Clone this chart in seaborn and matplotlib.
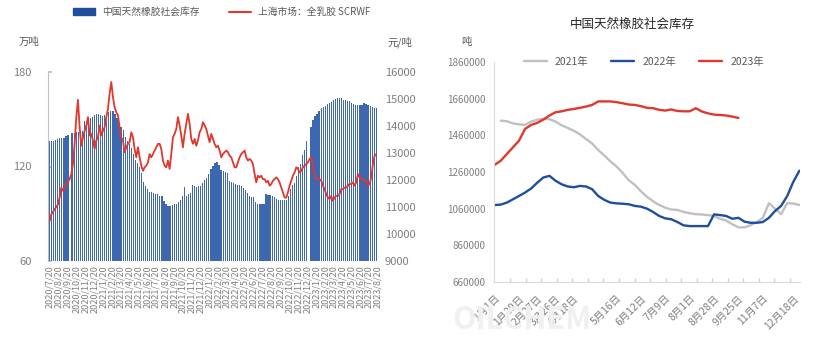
import numpy as np
import pandas as pd
import matplotlib
matplotlib.use("Agg")
import matplotlib.pyplot as plt
from matplotlib.lines import Line2D
from matplotlib.patches import Patch
from matplotlib.ticker import MultipleLocator, StrMethodFormatter
import seaborn as sns

# ---- left chart: weekly social inventory (万吨) and SCRWF price (元/吨) ----
START = "2020-07-20"
STOCK = [
    136.5, 136.5, 136.5, 136.8, 137.5, 138, 138, 138.3, 139.5, 139.8,
    np.nan,
    141.3, 141.5, 141.8, 142, 142.3, 142.3,
    149, 145, 150.5, 151, 151.5, 152.5, 153.5, 153.5, 152.5, 152, 152.5, 153,
    154.5, 155, 155, 153.5, 150.5, 147.5, 145, 143, 139, 136.5, 134.5,
    132, 128, 124, 122, 120, 116, 110, 107.5, 105.5, 104,
    103.5, 103, 102.8, 102.5, 101.5, 101, 98, 96.5, 95,
    95.2, 95.5, 96, 96.5, 97.5, 98.5, 101.5, 107, 101, 102.8, 103,
    108, 107.5, 107.3, 107.5, 107.8, 109.5, 111.7, 113, 115.5, 118.5,
    120.5, 122.5, 123, 121, 118, 117, 116.5, 116, 111, 110,
    109.5, 109.2, 108.5, 108, 107.8, 106.5, 105, 103, 101.5, 100.8,
    100.5, 97.5, 96.5, 96.5, 96.5, 96.5, 102.8, 102, 101.7, 101,
    100.6, 99.5, 99, 98.5, 98.5, 98.5, 99, 101, 106, 108.5,
    109.5, 114, 119.5, 121.5, 127, 130.5, 136.5, np.nan, 145, 149.5,
    152, 153.6, 155.5, 157, 157.8, 158.5, 159.5, 160.3, 161, 162,
    163, 163.7, 163.7, 163.7, 162.5, 162.5, 161.5, 161.4, 160.5, 159.9,
    159.3, 159.3, 159.3, 159.3, 160.3, 160, 158.8, 158.5, 157.5, 157.2, 157,
]
PRICE = [
    10480, 10730, 10820, 10920, 11000, 11100, 11350, 11720, 11600, 11720,
    11850, 11950, 12030, 12220, 12590, 13340, 14330, 14970, 13950, 13270,
    13580, 13830, 14020, 14330, 13650, 13710, 13460, 13150, 13460, 13580,
    14020, 13650, 13830, 13950, 14330, 14640, 15200, 15630, 15070, 14700,
    14510, 14390, 13950, 13580, 13460, 13030, 13210, 13340, 13400, 13770,
    13580, 13150, 12840, 13210, 12840, 12530, 12340, 12470, 12530, 12650,
    12960, 12840, 12960, 13090, 13210, 13340, 13340, 13150, 12720, 12530,
    12470, 12720, 12410, 12960, 13580, 13710, 13890, 14330, 14020, 13650,
    13210, 13710, 14080, 14450, 14080, 13520, 13340, 13520, 13270, 13460,
    13770, 13890, 14140, 14020, 13890, 13650, 13400, 13710, 13520, 13340,
    13210, 13270, 13090, 12840, 12960, 13030, 13090, 13030, 12900, 12840,
    12650, 12470, 12470, 12650, 12840, 12960, 13030, 13090, 12840, 12720,
    12780, 12720, 12590, 12220, 11910, 12160, 12100, 12160, 12030, 12030,
    11910, 11970, 11790, 11850, 11970, 12030, 12100, 12030, 11910, 11720,
    11540, 11350, 11350, 11540, 11790, 11970, 12160, 12280, 12470, 12410,
    12280, 12340, 12470, 12530, 12590, 12650, 12780, 12840, 12470, 12160,
    12030, 12030, 12030, 11970, 11790, 11660, 11480, 11350, 11290, 11410,
    11230, 11350, 11410, 11410, 11480, 11660, 11660, 11720, 11720, 11790,
    11850, 11850, 11910, 11790, 11910, 12220, 12100, 12030, 12030, 11970,
    11970, 11790, 11850, 12100, 12590, 12900, 12960,
]

# ---- right chart: inventory by year (吨), weekly ----
DATE_LABELS = ["1月1日", "1月29日", "2月27日", "3月26日", "4月18日", "5月16日",
               "6月12日", "7月9日", "8月1日", "8月28日", "9月25日", "11月7日", "12月18日"]
LABEL_WEEKS = [0, 4, 7, 10, 13, 20, 24, 28, 32, 36, 40, 44, 49]
Y2021 = [
    np.nan, 1540000, 1537000, 1525000, 1520000, 1517000, 1535000, 1545000, 1550000, 1548000,
    1535000, 1515000, 1500000, 1485000, 1465000, 1440000, 1415000, 1380000, 1350000, 1318000,
    1290000, 1255000, 1215000, 1190000, 1155000, 1125000, 1100000, 1080000, 1065000, 1055000,
    1053000, 1042000, 1035000, 1030000, 1028000, 1025000, 1020000, 1005000, 995000, 975000,
    958000, 958000, 970000, 987000, 1010000, 1090000, 1060000, 1030000, 1090000, 1088000, 1080000,
]
Y2022 = [
    1080000, 1082000, 1093000, 1111000, 1129000, 1148000, 1170000, 1202000, 1230000, 1239000,
    1212000, 1193000, 1181000, 1177000, 1184000, 1181000, 1166000, 1129000, 1108000, 1093000,
    1089000, 1087000, 1084000, 1075000, 1071000, 1060000, 1042000, 1020000, 1007000, 1002000,
    987000, 969000, 965000, 965000, 965000, 965000, 1029000, 1025000, 1020000, 1005000,
    1010000, 989000, 983000, 983000, 987000, 1010000, 1047000, 1075000, 1129000, 1206000, 1267000,
]
Y2023 = [
    1299000, 1321000, 1358000, 1394000, 1431000, 1495000, 1517000, 1528000, 1546000, 1568000,
    1586000, 1591000, 1599000, 1604000, 1610000, 1617000, 1626000, 1645000, 1645000, 1645000,
    1641000, 1635000, 1628000, 1626000, 1619000, 1610000, 1608000, 1599000, 1595000, 1601000,
    1593000, 1591000, 1591000, 1608000, 1590000, 1580000, 1573000, 1571000, 1568000, 1562000,
    1555000,
]

BLUE = "#3D68B0"
RED = "#E0372E"
GREY_TXT = "#7F7F7F"

sns.set_theme(style="white")
plt.rcParams["font.family"] = ["Noto Sans CJK SC", "DejaVu Sans"]

fig = plt.figure(figsize=(8.16, 3.59), dpi=100)

# ===== left chart =====
ax = fig.add_axes([48 / 816, 98 / 359, 330 / 816, 189 / 359])
n_weeks = len(STOCK)
bars = pd.DataFrame({"week": range(n_weeks), "stock": STOCK})
sns.barplot(data=bars, x="week", y="stock", order=list(range(n_weeks)),
            color=BLUE, saturation=1, width=0.6, linewidth=0, ax=ax)
ax.set_ylim(60, 180)
ax.set_yticks([60, 120, 180])
ax.set_xlim(-0.8, n_weeks - 0.2)
ax.set_xlabel("")
ax.set_ylabel("")

months = pd.date_range(START, "2023-08-20", freq=pd.DateOffset(months=1))
month_pos = (months - pd.Timestamp(START)).days / 7
ax.set_xticks(month_pos, [f"{d.year}/{d.month}/{d.day}" for d in months],
              rotation=90, fontsize=6.5, color=GREY_TXT)
ax.tick_params(axis="x", length=0, pad=3)
ax.tick_params(axis="y", direction="in", length=3, color="#BFBFBF",
               labelsize=8, labelcolor=GREY_TXT, pad=12)
for s in ["top", "right", "bottom"]:
    ax.spines[s].set_visible(False)
ax.spines["left"].set_color("#BFBFBF")
ax.spines["left"].set_linewidth(0.8)

ax2 = ax.twinx()
sns.lineplot(x=np.linspace(0, n_weeks - 1, len(PRICE)), y=PRICE, ax=ax2,
             color=RED, linewidth=1.3)
ax2.set_ylim(9000, 16000)
ax2.set_yticks(range(9000, 16001, 1000))
ax2.tick_params(axis="y", length=0, labelsize=8, labelcolor=GREY_TXT, pad=5)
for s in ax2.spines.values():
    s.set_visible(False)

fig.text(29 / 816, 1 - 42 / 359, "万吨", ha="center", va="center", fontsize=7.5, color="#595959")
fig.text(400 / 816, 1 - 42 / 359, "元/吨", ha="center", va="center", fontsize=7.5, color="#595959")
fig.legend(handles=[Patch(color="#1F4E9C", label="中国天然橡胶社会库存"),
                    Line2D([], [], color=RED, lw=1.5, label="上海市场：全乳胶 SCRWF")],
           loc="center", bbox_to_anchor=(222 / 816, 1 - 12 / 359), ncol=2, frameon=False,
           fontsize=7, handlelength=2.2, handleheight=0.6, columnspacing=3,
           labelcolor="#595959")

# ===== right chart =====
bx = fig.add_axes([494 / 816, 77 / 359, 306 / 816, 220 / 359])
fig.text(522 / 816, 1 - 320 / 359, "OILCHEM", ha="center", va="center", fontsize=22,
         fontweight="bold", color="#F0F0F0", zorder=0)
series = [("2021年", Y2021, "#C0C0C0"), ("2022年", Y2022, "#1F4E9C"), ("2023年", Y2023, RED)]
for name, vals, col in series:
    sns.lineplot(x=range(len(vals)), y=vals, ax=bx, color=col, linewidth=1.7, label=name)
bx.set_ylim(660000, 1860000)
bx.set_yticks(range(660000, 1860001, 200000))
bx.yaxis.set_major_formatter(StrMethodFormatter("{x:.0f}"))
bx.set_xlim(-0.1, 50.1)
bx.set_xticks(LABEL_WEEKS, DATE_LABELS, rotation=45, ha="right", va="top",
              rotation_mode="anchor", fontsize=7.5, color=GREY_TXT)
bx.xaxis.set_minor_locator(MultipleLocator(2.55))
bx.tick_params(axis="x", which="major", length=0, pad=8)
bx.tick_params(axis="x", which="minor", bottom=True, length=3, color="#D0D0D0", direction="in")
bx.tick_params(axis="y", length=0, labelsize=7, labelcolor=GREY_TXT, pad=6)
bx.set_xlabel("")
bx.set_ylabel("")
bx.patch.set_alpha(0)
for s in ["top", "right"]:
    bx.spines[s].set_visible(False)
for s in ["left", "bottom"]:
    bx.spines[s].set_color("#D9D9D9")
    bx.spines[s].set_linewidth(0.8)
bx.legend(loc="center", bbox_to_anchor=(0.49, 1.0), ncol=3, frameon=False, fontsize=7.5,
          handlelength=2.2, columnspacing=2.2, labelcolor="#595959")

fig.text(632 / 816, 1 - 24 / 359, "中国天然橡胶社会库存", ha="center", va="center",
         fontsize=9, color="#262626")
fig.text(466 / 816, 1 - 42 / 359, "吨", ha="center", va="center", fontsize=7.5, color="#595959")

fig.savefig("out.png", dpi=100)
